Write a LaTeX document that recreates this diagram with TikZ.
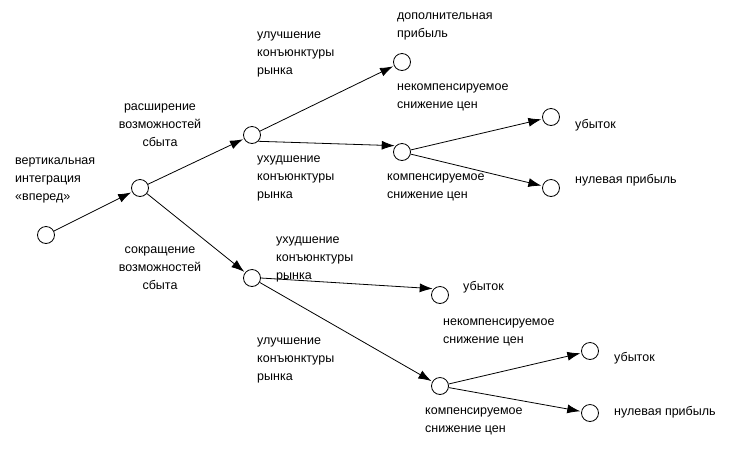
\documentclass[tikz,border=0pt]{standalone}
\usepackage{fontspec}
\setmainfont{Liberation Sans}
\usetikzlibrary{arrows.meta,positioning}

\begin{document}
\begin{tikzpicture}[x=1pt, y=-1pt,
    state/.style={circle, draw, thick, minimum size=17pt, inner sep=0pt},
    lbl/.style={align=left, inner sep=0pt, font=\fontsize{12.5}{18}\selectfont},
    clbl/.style={align=center, inner sep=0pt, font=\fontsize{12.5}{18}\selectfont},
    arrow/.style={-{Latex[length=13pt,width=9pt]}, thick, shorten >=1pt}]
    \useasboundingbox (0,0) rectangle (748,467);

    % decision points
    \node[state] (root) at (46,235) {};
    \node[state] (ext) at (140,188) {};
    \node[state] (up) at (252,135) {};
    \node[state] (upgood) at (402,62) {};
    \node[state] (upbad) at (402,152) {};
    \node[state] (upbadloss) at (551,117) {};
    \node[state] (upbadzero) at (551,188) {};
    \node[state] (down) at (252,278) {};
    \node[state] (downbad) at (440,295) {};
    \node[state] (downgood) at (440,386) {};
    \node[state] (downloss) at (590,351) {};
    \node[state] (downzero) at (590,413) {};

    \draw[arrow] (root) -- (ext);
    \draw[arrow] (ext) -- (up);
    \draw[arrow] (ext) -- (down);
    \draw[arrow] (up) -- (upgood);
    \draw[arrow] (up.south east) -- (upbad.north west);
    \draw[arrow] (upbad) -- (upbadloss);
    \draw[arrow] (upbad) -- (upbadzero);
    \draw[arrow] (down.east) -- (downbad.north west);
    \draw[arrow] (down) -- (downgood);
    \draw[arrow] (downgood) -- (downloss);
    \draw[arrow] (downgood) -- (downzero);

    % labels
    \node[lbl, anchor=west] (tRoot) at (15,180) {вертикальная\\интеграция\\«вперед»};
    \node[clbl] (tExt) at (160,125) {расширение\\возможностей\\сбыта};
    \node[clbl] (tCut) at (160,268) {сокращение\\возможностей\\сбыта};
    \node[lbl, anchor=west] (tUpGood) at (257,54) {улучшение\\конъюнктуры\\рынка};
    \node[lbl, anchor=west] (tUpBad) at (257,178) {ухудшение\\конъюнктуры\\рынка};
    \node[lbl, anchor=west] (tExtra) at (397,26) {дополнительная\\прибыль};
    \node[lbl, anchor=west] (tNonComp1) at (397,97) {некомпенсируемое\\снижение цен};
    \node[lbl, anchor=west] (tComp1) at (387,187) {компенсируемое\\снижение цен};
    \node[lbl, anchor=west] (tLoss1) at (575,125) {убыток};
    \node[lbl, anchor=west] (tZero1) at (575,180) {нулевая прибыль};
    \node[lbl, anchor=west] (tDownBad) at (276,259) {ухудшение\\конъюнктуры\\рынка};
    \node[lbl, anchor=west] (tLoss2) at (463,287) {убыток};
    \node[lbl, anchor=west] (tDownGood) at (257,360) {улучшение\\конъюнктуры\\рынка};
    \node[lbl, anchor=west] (tNonComp2) at (443,332) {некомпенсируемое\\снижение цен};
    \node[lbl, anchor=west] (tComp2) at (425,421) {компенсируемое\\снижение цен};
    \node[lbl, anchor=west] (tLoss3) at (614,358) {убыток};
    \node[lbl, anchor=west] (tZero2) at (614,412) {нулевая прибыль};
\end{tikzpicture}
\end{document}
